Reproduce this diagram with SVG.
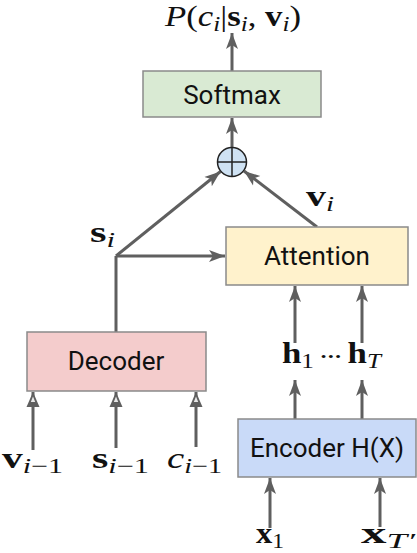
<svg xmlns="http://www.w3.org/2000/svg" width="417" height="553" viewBox="0 0 417 553">
<style>
.box{stroke:#8a8a8a;stroke-width:1.5}
.lbl{font-family:Roboto,"Liberation Sans",sans-serif;font-size:26px;fill:#111;text-anchor:middle;dominant-baseline:central}
.m{font-family:"Liberation Serif","DejaVu Serif",serif;font-size:29px;fill:#111}
.b{font-weight:bold;font-style:normal}
.it{font-style:italic}
.sub{font-size:21px;font-style:italic}
.sub1{font-size:21px;font-style:normal}
.ln{stroke:#5f5f5f;stroke-width:3;fill:none}
.arr{marker-end:url(#ah)}
.arr2{marker-end:url(#ah2)}
</style>
<defs>
<marker id="ah" markerUnits="userSpaceOnUse" markerWidth="17" markerHeight="14" viewBox="0 0 17 14" refX="16" refY="7" orient="auto">
<path d="M0,1 L16,7 L0,13 L4,7 z" fill="#5f5f5f"/>
</marker>
<marker id="ah2" markerUnits="userSpaceOnUse" markerWidth="17" markerHeight="14" viewBox="0 0 17 14" refX="16" refY="7" orient="auto">
<path d="M1,0.5 L16,7 L1,13.5 z" fill="#5f5f5f"/>
<path d="M6,4.8 L11.5,7 L6,9.2 z" fill="#e8e8e8"/>
</marker>
</defs>

<g id="connectors">
<line class="ln arr" x1="232" y1="71" x2="232" y2="33"/>
<line class="ln arr" x1="232" y1="147" x2="232" y2="118"/>
<line class="ln arr" x1="116" y1="256" x2="220.5" y2="171.5"/>
<line class="ln arr" x1="317" y1="227" x2="244" y2="171"/>
<line class="ln arr" x1="116" y1="256" x2="225" y2="256"/>
<line class="ln" x1="116" y1="256" x2="116" y2="332"/>
<line class="ln arr2" x1="33" y1="450" x2="33" y2="392"/>
<line class="ln arr2" x1="116" y1="448" x2="116" y2="392"/>
<line class="ln arr2" x1="196" y1="447" x2="196" y2="392"/>
<line class="ln arr" x1="295" y1="419" x2="295" y2="380"/>
<line class="ln arr" x1="362" y1="419" x2="362" y2="380"/>
<line class="ln arr" x1="295" y1="343" x2="295" y2="286"/>
<line class="ln arr" x1="362" y1="343" x2="362" y2="286"/>
<line class="ln arr" x1="270" y1="528" x2="270" y2="478"/>
<line class="ln arr" x1="380" y1="527" x2="380" y2="478"/>
</g>

<g id="softmax">
<rect class="box" x="143" y="71" width="178" height="46" fill="#d9ead3"/>
<text class="lbl" x="232" y="95">Softmax</text>
</g>

<g id="sum">
<circle cx="232" cy="162" r="14.5" fill="#cfe2f3" stroke="#222" stroke-width="1.5"/>
<line x1="217.5" y1="162" x2="246.5" y2="162" stroke="#222" stroke-width="1.5"/>
<line x1="232" y1="147.5" x2="232" y2="176.5" stroke="#222" stroke-width="1.5"/>
</g>

<g id="attention">
<rect class="box" x="226" y="227" width="182" height="58" fill="#fff2cc"/>
<text class="lbl" x="317" y="256">Attention</text>
</g>

<g id="decoder">
<rect class="box" x="27" y="332" width="179" height="59" fill="#f4cccc"/>
<text class="lbl" x="116" y="361">Decoder</text>
</g>

<g id="encoder">
<rect class="box" x="238" y="419" width="178" height="58" fill="#c9daf8"/>
<text class="lbl" x="327" y="448">Encoder H(X)</text>
</g>

<g id="labels">
<text class="m" x="165" y="26" textLength="136" lengthAdjust="spacingAndGlyphs"><tspan class="it">P</tspan>(<tspan class="it">c</tspan><tspan class="sub" dy="5">i</tspan><tspan dy="-5">|</tspan><tspan class="b">s</tspan><tspan class="sub" dy="5">i</tspan><tspan dy="-5">, </tspan><tspan class="b">v</tspan><tspan class="sub" dy="5">i</tspan><tspan dy="-5">)</tspan></text>
<text class="m" x="90" y="242" textLength="25" lengthAdjust="spacingAndGlyphs"><tspan class="b">s</tspan><tspan class="sub" dy="5">i</tspan></text>
<text class="m" x="306" y="206" textLength="28" lengthAdjust="spacingAndGlyphs"><tspan class="b">v</tspan><tspan class="sub" dy="5">i</tspan></text>
<text class="m" x="282" y="363" textLength="99" lengthAdjust="spacingAndGlyphs"><tspan class="b">h</tspan><tspan class="sub1" dy="5">1</tspan><tspan dy="-5" font-family="Roboto,sans-serif" font-size="20" font-weight="bold"> ··· </tspan><tspan class="b">h</tspan><tspan class="sub" dy="5">T</tspan></text>
<text class="m" x="2" y="468" textLength="61" lengthAdjust="spacingAndGlyphs"><tspan class="b">v</tspan><tspan class="sub" dy="5">i</tspan><tspan class="sub1">−1</tspan></text>
<text class="m" x="92" y="468" textLength="57" lengthAdjust="spacingAndGlyphs"><tspan class="b">s</tspan><tspan class="sub" dy="5">i</tspan><tspan class="sub1">−1</tspan></text>
<text class="m" x="167" y="468" textLength="55" lengthAdjust="spacingAndGlyphs"><tspan class="it">c</tspan><tspan class="sub" dy="5">i</tspan><tspan class="sub1">−1</tspan></text>
<text class="m" x="256" y="543" textLength="28" lengthAdjust="spacingAndGlyphs"><tspan class="b">x</tspan><tspan class="sub1" dy="5">1</tspan></text>
<text class="m" x="361" y="543" textLength="54" lengthAdjust="spacingAndGlyphs"><tspan class="b">x</tspan><tspan class="sub" dy="5">T′</tspan></text>
</g>
</svg>
